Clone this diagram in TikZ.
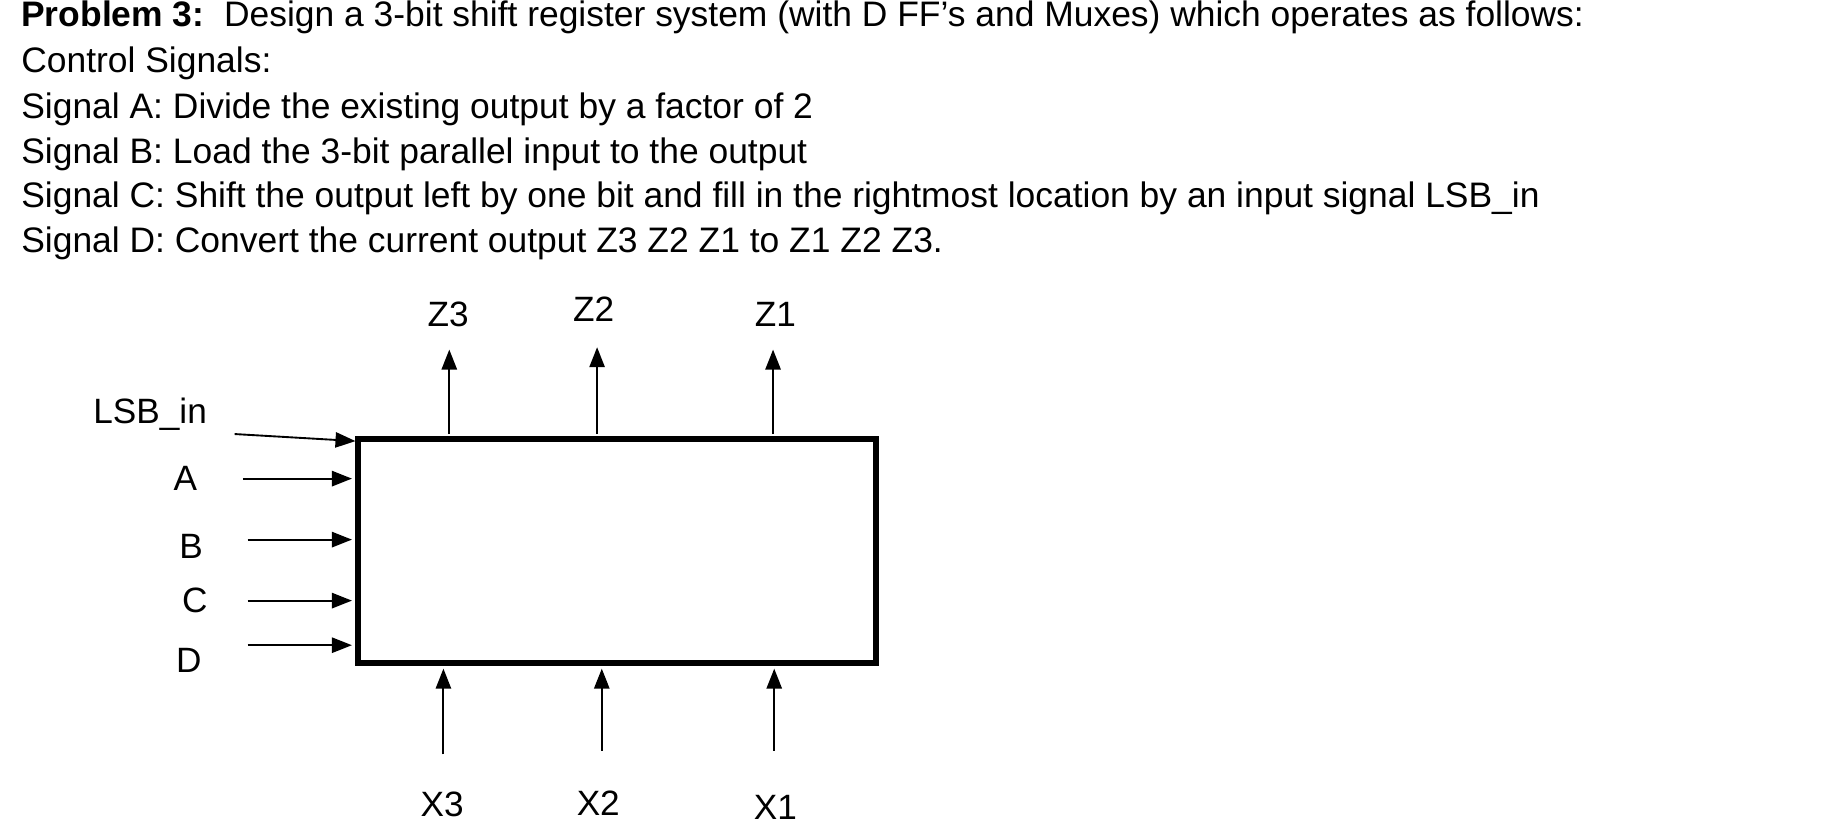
\documentclass[tikz,border=0pt]{standalone}
\usepackage{fontspec}
\setmainfont{Liberation Sans}
\usetikzlibrary{arrows.meta}
\begin{document}
\begin{tikzpicture}[x=1pt,y=-1pt,
  txt/.style={anchor=base west,inner sep=0pt,font=\fontsize{30.2}{33}\selectfont},
  lbl/.style={inner sep=0pt,font=\fontsize{30}{33}\selectfont},
  sig/.style={-{Triangle[length=17pt,width=13pt]},line width=1.6pt}]
\useasboundingbox (0,0) rectangle (1560,707);
\node[txt] (t0) at (18,23) {\textbf{Problem 3:}\ \ Design a 3-bit shift register system (with D FF{\char39}s and Muxes) which operates as follows:};
\node[txt] (t1) at (18,62) {Control Signals:};
\node[txt] (t2) at (18,101) {Signal A: Divide the existing output by a factor of 2};
\node[txt] (t3) at (18,139) {Signal B: Load the 3-bit parallel input to the output};
\node[txt] (t4) at (18,177) {Signal C: Shift the output left by one bit and fill in the rightmost location by an input signal LSB\_in};
\node[txt] (t5) at (18,215) {Signal D: Convert the current output Z3 Z2 Z1 to Z1 Z2 Z3.};
\draw[line width=5pt] (305,374) rectangle (747,565);
\node[lbl] (z3) at (382,268) {Z3};
\node[lbl] (z2) at (506,264) {Z2};
\node[lbl] (z1) at (661,268) {Z1};
\coordinate (z3s) at (383,370); \coordinate (z3e) at (383,298);
\coordinate (z2s) at (509,370); \coordinate (z2e) at (509,296);
\coordinate (z1s) at (659,370); \coordinate (z1e) at (659,298);
\draw[sig] (z3s) -- (z3e); \draw[sig] (z2s) -- (z2e); \draw[sig] (z1s) -- (z1e);
\node[lbl] (lsb) at (128,353) {LSB\_in};
\node[lbl] (a) at (158,408) {A};
\node[lbl] (b) at (163,466) {B};
\node[lbl] (c) at (166,512) {C};
\node[lbl] (d) at (161,563) {D};
\coordinate (lsbs) at (200,370); \coordinate (lsbe) at (303,376);
\coordinate (as) at (207,408); \coordinate (ae) at (300,408);
\coordinate (bs) at (211,460); \coordinate (be) at (300,460);
\coordinate (cs) at (211,512); \coordinate (ce) at (300,512);
\coordinate (ds) at (211,550); \coordinate (de) at (300,550);
\draw[sig] (lsbs) -- (lsbe); \draw[sig] (as) -- (ae); \draw[sig] (bs) -- (be);
\draw[sig] (cs) -- (ce); \draw[sig] (ds) -- (de);
\node[lbl] (x3) at (377,686) {X3};
\node[lbl] (x2) at (510,685) {X2};
\node[lbl] (x1) at (661,688) {X1};
\coordinate (x3s) at (378,643); \coordinate (x3e) at (378,570);
\coordinate (x2s) at (513,640); \coordinate (x2e) at (513,570);
\coordinate (x1s) at (660,640); \coordinate (x1e) at (660,570);
\draw[sig] (x3s) -- (x3e); \draw[sig] (x2s) -- (x2e); \draw[sig] (x1s) -- (x1e);
\end{tikzpicture}
\end{document}
